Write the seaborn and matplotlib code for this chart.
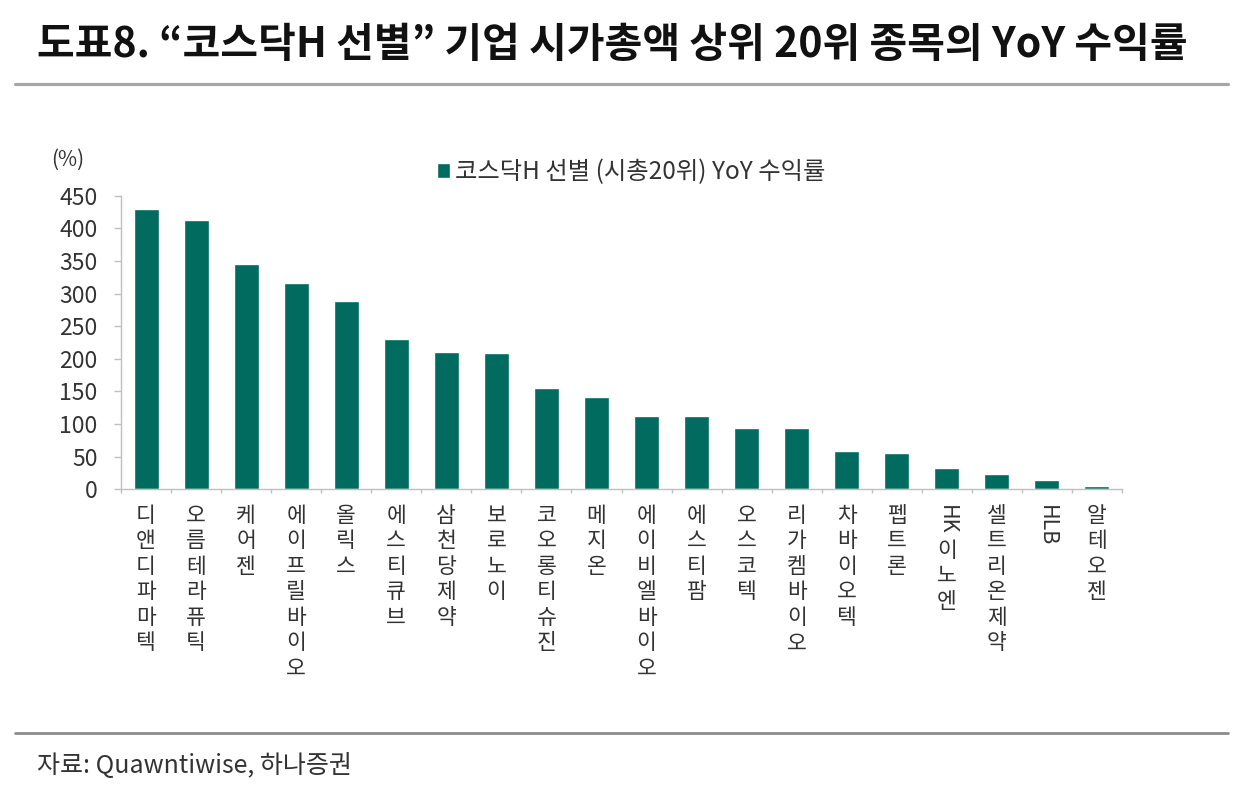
import re

import matplotlib
matplotlib.use("Agg")
import matplotlib.pyplot as plt
from matplotlib.lines import Line2D
import pandas as pd
import seaborn as sns

# data
stocks = ["디앤디파마텍", "오름테라퓨틱", "케어젠", "에이프릴바이오", "올릭스",
          "에스티큐브", "삼천당제약", "보로노이", "코오롱티슈진", "메지온",
          "에이비엘바이오", "에스티팜", "오스코텍", "리가켐바이오", "차바이오텍",
          "펩트론", "HK이노엔", "셀트리온제약", "HLB", "알테오젠"]
yoy_return = [430, 413, 346, 316, 289, 230, 211, 209, 155, 142,
              113, 113, 94, 94, 59, 55, 32, 24, 14, 5]
y_ticks = [0, 50, 100, 150, 200, 250, 300, 350, 400, 450]
series_label = "코스닥H 선별 (시총20위) YoY 수익률"

title = "도표8. “코스닥H 선별” 기업 시가총액 상위 20위 종목의 YoY 수익률"
source = "자료: Quawntiwise, 하나증권"

BAR = "#006B5E"
TXT = "#333333"
AXC = "#bfbfbf"

sns.set_theme(style="white")
plt.rcParams["font.family"] = ["Noto Sans CJK KR", "DejaVu Sans"]

df = pd.DataFrame({"stock": stocks, "ret": yoy_return})

fig = plt.figure(figsize=(12.55, 8), dpi=100)
ax = fig.add_axes([121 / 1255, 1 - 489.3 / 800, (1122 - 121) / 1255, (489.3 - 195.7) / 800])

sns.barplot(data=df, x="stock", y="ret", color=BAR, saturation=1, width=0.5,
            label=series_label, ax=ax)

ax.set_xlim(-0.5, len(stocks) - 0.5)
ax.set_ylim(0, 450)
ax.set_yticks(y_ticks)
ax.set_yticklabels([str(v) for v in y_ticks], fontsize=16.5, color=TXT)
ax.set_xticks([i - 0.5 for i in range(len(stocks) + 1)])
ax.set_xticklabels([])
ax.set_xlabel("")
ax.set_ylabel("")
ax.tick_params(axis="y", direction="out", length=5, width=1, color=AXC, pad=12, left=True)
ax.tick_params(axis="x", direction="out", length=3, width=1, color=AXC, bottom=True)
sns.despine(ax=ax)
for s in ("left", "bottom"):
    ax.spines[s].set_color(AXC)
    ax.spines[s].set_linewidth(1)

# vertical (stacked) category labels; latin runs are turned sideways
fig.canvas.draw()
renderer = fig.canvas.get_renderer()
pitch = 18.4
for i, name in enumerate(stocks):
    off = 11
    for seg in re.findall(r"[A-Za-z]+|.", name):
        if seg.isascii():
            t = ax.annotate(seg, xy=(i, 0), xycoords="data",
                            xytext=(0, -off), textcoords="offset points",
                            ha="center", va="top", rotation=-90,
                            fontsize=15.5, color=TXT, annotation_clip=False)
            h = t.get_window_extent(renderer).height * 72 / fig.dpi
            off += h + 4
        else:
            ax.annotate(seg, xy=(i, 0), xycoords="data",
                        xytext=(0, -off), textcoords="offset points",
                        ha="center", va="top", fontsize=15.5, color=TXT,
                        annotation_clip=False)
            off += pitch

leg = ax.legend(loc="center", bbox_to_anchor=(631 / 1255, 1 - 172 / 800),
                bbox_transform=fig.transFigure, frameon=False, fontsize=17.5,
                handlelength=0.55, handleheight=0.55, handletextpad=0.2)
for t in leg.get_texts():
    t.set_color(TXT)

fig.text(68 / 1255, 1 - 160 / 800, "(%)", ha="center", va="center", fontsize=15, color=TXT)

fig.text(37 / 1255, 1 - 45 / 800, title, ha="left", va="center",
         fontsize=29.5, fontweight="bold", color="#111111")
fig.add_artist(Line2D([15 / 1255, 1228 / 1255], [1 - 84 / 800] * 2,
                      transform=fig.transFigure, color="#a6a6a6", lw=2.3))
fig.add_artist(Line2D([15 / 1255, 1228 / 1255], [1 - 733 / 800] * 2,
                      transform=fig.transFigure, color="#8c8c8c", lw=2.0))
fig.text(37 / 1255, 1 - 766 / 800, source, ha="left", va="center",
         fontsize=18, color=TXT)

fig.savefig("out.png", dpi=100, facecolor="white")
